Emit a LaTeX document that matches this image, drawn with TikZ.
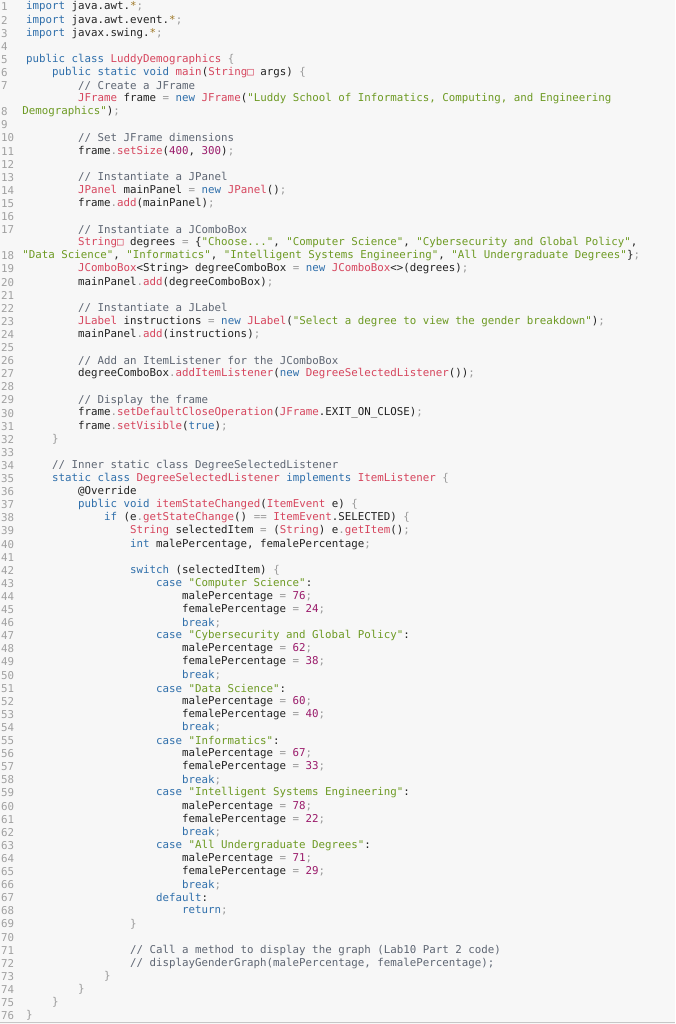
\documentclass[tikz,border=0pt]{standalone}
\usepackage{fontspec}
\setmonofont{DejaVu Sans Mono}
\definecolor{bg}{HTML}{F7F7F7}
\definecolor{kwc}{HTML}{2F6FAB}
\definecolor{tyc}{HTML}{D6455D}
\definecolor{stc}{HTML}{6D9A23}
\definecolor{nuc}{HTML}{9A1A6A}
\definecolor{cmc}{HTML}{5E6673}
\definecolor{opc}{HTML}{9A9A9A}
\definecolor{txc}{HTML}{222222}
\definecolor{lnc}{HTML}{A0A0A0}
\definecolor{sac}{HTML}{A07A2A}
\newcommand\K[1]{\textcolor{kwc}{#1}}
\newcommand\T[1]{\textcolor{tyc}{#1}}
\newcommand\Sg[1]{\textcolor{stc}{#1}}
\newcommand\N[1]{\textcolor{nuc}{#1}}
\newcommand\C[1]{\textcolor{cmc}{#1}}
\newcommand\Op[1]{\textcolor{opc}{#1}}
\newcommand\St{\textcolor{sac}{*}}
\newcommand\Rw[4]{%
  \node[lnum] (n#1) at (1,{7+#1*13.1}) {#2};
  \node[code] (c#1) at ({26+#3*6.5},{7+#1*13.1}) {#4};}
\tikzset{
  lnum/.style={anchor=west,inner sep=0pt,text=lnc,font=\ttfamily\fontsize{10.8}{13}\selectfont},
  code/.style={anchor=west,inner sep=0pt,text=txc,font=\ttfamily\fontsize{10.8}{13}\selectfont}
}
\begin{document}
\begin{tikzpicture}[x=1pt,y=-1pt]
\fill[bg] (0,0) rectangle (675,1024);
\useasboundingbox (0,0) rectangle (675,1024);
\draw[lnc!60,line width=1pt] (0,1022.5) -- (675,1022.5);
\Rw{0}{1}{0}{\K{import} java.awt.\St\Op{;}}
\Rw{1}{2}{0}{\K{import} java.awt.event.\St\Op{;}}
\Rw{2}{3}{0}{\K{import} javax.swing.\St\Op{;}}
\Rw{3}{4}{0}{}
\Rw{4}{5}{0}{\K{public class} \T{LuddyDemographics} \Op{\{}}
\Rw{5}{6}{4}{\K{public static void} \T{main}(\T{String□} args) \Op{\{}}
\Rw{6}{7}{8}{\C{// Create a JFrame}}
\Rw{7}{}{8}{\T{JFrame} frame \Op{=} \K{new} \T{JFrame}(\Sg{"Luddy School of Informatics, Computing, and Engineering}}
\Rw{8}{8}{-0.6}{\Sg{Demographics"})\Op{;}}
\Rw{9}{9}{0}{}
\Rw{10}{10}{8}{\C{// Set JFrame dimensions}}
\Rw{11}{11}{8}{frame\Op{.}\T{setSize}(\N{400}, \N{300})\Op{;}}
\Rw{12}{12}{0}{}
\Rw{13}{13}{8}{\C{// Instantiate a JPanel}}
\Rw{14}{14}{8}{\T{JPanel} mainPanel \Op{=} \K{new} \T{JPanel}()\Op{;}}
\Rw{15}{15}{8}{frame\Op{.}\T{add}(mainPanel)\Op{;}}
\Rw{16}{16}{0}{}
\Rw{17}{17}{8}{\C{// Instantiate a JComboBox}}
\Rw{18}{}{8}{\T{String□} degrees \Op{=} \{\Sg{"Choose..."}, \Sg{"Computer Science"}, \Sg{"Cybersecurity and Global Policy"},}
\Rw{19}{18}{-0.6}{\Sg{"Data Science"}, \Sg{"Informatics"}, \Sg{"Intelligent Systems Engineering"}, \Sg{"All Undergraduate Degrees"}\}\Op{;}}
\Rw{20}{19}{8}{\T{JComboBox}<String> degreeComboBox \Op{=} \K{new} \T{JComboBox}<>(degrees)\Op{;}}
\Rw{21}{20}{8}{mainPanel\Op{.}\T{add}(degreeComboBox)\Op{;}}
\Rw{22}{21}{0}{}
\Rw{23}{22}{8}{\C{// Instantiate a JLabel}}
\Rw{24}{23}{8}{\T{JLabel} instructions \Op{=} \K{new} \T{JLabel}(\Sg{"Select a degree to view the gender breakdown"})\Op{;}}
\Rw{25}{24}{8}{mainPanel\Op{.}\T{add}(instructions)\Op{;}}
\Rw{26}{25}{0}{}
\Rw{27}{26}{8}{\C{// Add an ItemListener for the JComboBox}}
\Rw{28}{27}{8}{degreeComboBox\Op{.}\T{addItemListener}(\K{new} \T{DegreeSelectedListener}())\Op{;}}
\Rw{29}{28}{0}{}
\Rw{30}{29}{8}{\C{// Display the frame}}
\Rw{31}{30}{8}{frame\Op{.}\T{setDefaultCloseOperation}(\T{JFrame}.EXIT\_ON\_CLOSE)\Op{;}}
\Rw{32}{31}{8}{frame\Op{.}\T{setVisible}(\K{true})\Op{;}}
\Rw{33}{32}{4}{\Op{\}}}
\Rw{34}{33}{0}{}
\Rw{35}{34}{4}{\C{// Inner static class DegreeSelectedListener}}
\Rw{36}{35}{4}{\K{static class} \T{DegreeSelectedListener} \K{implements} \T{ItemListener} \Op{\{}}
\Rw{37}{36}{8}{@Override}
\Rw{38}{37}{8}{\K{public void} \T{itemStateChanged}(\T{ItemEvent} e) \Op{\{}}
\Rw{39}{38}{12}{\K{if} (e\Op{.}\T{getStateChange}() \Op{==} \T{ItemEvent}.SELECTED) \Op{\{}}
\Rw{40}{39}{16}{\T{String} selectedItem \Op{=} (\T{String}) e\Op{.}\T{getItem}()\Op{;}}
\Rw{41}{40}{16}{\K{int} malePercentage, femalePercentage\Op{;}}
\Rw{42}{41}{0}{}
\Rw{43}{42}{16}{\K{switch} (selectedItem) \Op{\{}}
\Rw{44}{43}{20}{\K{case} \Sg{"Computer Science"}:}
\Rw{45}{44}{24}{malePercentage \Op{=} \N{76}\Op{;}}
\Rw{46}{45}{24}{femalePercentage \Op{=} \N{24}\Op{;}}
\Rw{47}{46}{24}{\K{break}\Op{;}}
\Rw{48}{47}{20}{\K{case} \Sg{"Cybersecurity and Global Policy"}:}
\Rw{49}{48}{24}{malePercentage \Op{=} \N{62}\Op{;}}
\Rw{50}{49}{24}{femalePercentage \Op{=} \N{38}\Op{;}}
\Rw{51}{50}{24}{\K{break}\Op{;}}
\Rw{52}{51}{20}{\K{case} \Sg{"Data Science"}:}
\Rw{53}{52}{24}{malePercentage \Op{=} \N{60}\Op{;}}
\Rw{54}{53}{24}{femalePercentage \Op{=} \N{40}\Op{;}}
\Rw{55}{54}{24}{\K{break}\Op{;}}
\Rw{56}{55}{20}{\K{case} \Sg{"Informatics"}:}
\Rw{57}{56}{24}{malePercentage \Op{=} \N{67}\Op{;}}
\Rw{58}{57}{24}{femalePercentage \Op{=} \N{33}\Op{;}}
\Rw{59}{58}{24}{\K{break}\Op{;}}
\Rw{60}{59}{20}{\K{case} \Sg{"Intelligent Systems Engineering"}:}
\Rw{61}{60}{24}{malePercentage \Op{=} \N{78}\Op{;}}
\Rw{62}{61}{24}{femalePercentage \Op{=} \N{22}\Op{;}}
\Rw{63}{62}{24}{\K{break}\Op{;}}
\Rw{64}{63}{20}{\K{case} \Sg{"All Undergraduate Degrees"}:}
\Rw{65}{64}{24}{malePercentage \Op{=} \N{71}\Op{;}}
\Rw{66}{65}{24}{femalePercentage \Op{=} \N{29}\Op{;}}
\Rw{67}{66}{24}{\K{break}\Op{;}}
\Rw{68}{67}{20}{\K{default}:}
\Rw{69}{68}{24}{\K{return}\Op{;}}
\Rw{70}{69}{16}{\Op{\}}}
\Rw{71}{70}{0}{}
\Rw{72}{71}{16}{\C{// Call a method to display the graph (Lab10 Part 2 code)}}
\Rw{73}{72}{16}{\C{// displayGenderGraph(malePercentage, femalePercentage);}}
\Rw{74}{73}{12}{\Op{\}}}
\Rw{75}{74}{8}{\Op{\}}}
\Rw{76}{75}{4}{\Op{\}}}
\Rw{77}{76}{0}{\Op{\}}}
\end{tikzpicture}
\end{document}
